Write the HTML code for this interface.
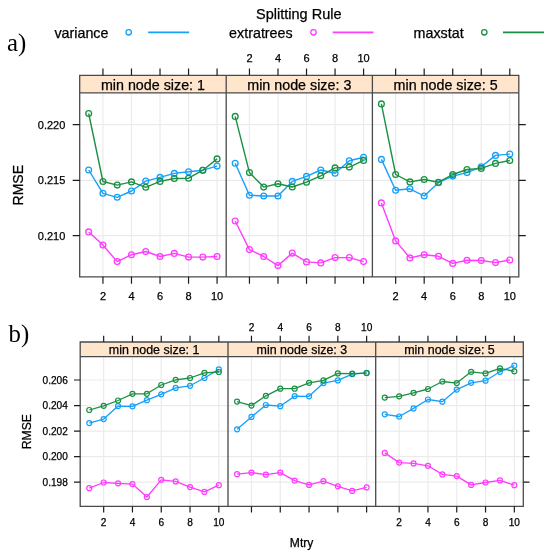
<!DOCTYPE html>
<html><head><meta charset="utf-8"><style>
html,body{margin:0;padding:0;background:#fff;}
body{width:550px;height:556px;overflow:hidden;}
svg{display:block;will-change:transform;}
text{font-family:"Liberation Sans",sans-serif;fill:#000000;stroke:#000000;stroke-width:2.5px;}
text.s{font-family:"Liberation Serif",serif;stroke:none;}
</style></head><body>
<svg width="550" height="556" viewBox="0 0 550 556">
<rect width="550" height="556" fill="#fff"/>
<text transform="translate(298.8 19.4) scale(0.1)" font-size="145" text-anchor="middle">Splitting Rule</text>
<text transform="translate(54.4 37.6) scale(0.1)" font-size="143">variance</text>
<circle cx="128.7" cy="32.3" r="2.7" fill="none" stroke="#16a0f8" stroke-width="1.3"/>
<path d="M148.2 32.3H189.1" stroke="#16a0f8" stroke-width="1.7"/>
<text transform="translate(229.1 37.6) scale(0.1)" font-size="143">extratrees</text>
<circle cx="313.5" cy="32.3" r="2.7" fill="none" stroke="#ff3cff" stroke-width="1.3"/>
<path d="M332.7 32.3H373.5" stroke="#ff3cff" stroke-width="1.7"/>
<text transform="translate(413.6 37.6) scale(0.1)" font-size="143">maxstat</text>
<circle cx="484.3" cy="32.3" r="2.7" fill="none" stroke="#1b9044" stroke-width="1.3"/>
<path d="M503 32.3H544" stroke="#1b9044" stroke-width="1.7"/>
<text transform="translate(6.9 51.3) scale(0.1)" font-size="248" class="s">a)</text>
<text transform="translate(8.6 342.2) scale(0.1)" font-size="248" class="s">b)</text>
<text transform="translate(23.3 185.2) rotate(-90) scale(0.1)" font-size="140" text-anchor="middle">RMSE</text>
<text transform="translate(31.4 431.6) rotate(-90) scale(0.1)" font-size="122" text-anchor="middle">RMSE</text>
<text transform="translate(301.6 546.6) scale(0.1)" font-size="121" text-anchor="middle">Mtry</text>
<rect x="79.7" y="75.4" width="439.1" height="17.4" fill="#ffe5cc"/>
<path d="M102.95 92.8V276.8M131.48 92.8V276.8M160.02 92.8V276.8M188.55 92.8V276.8M217.08 92.8V276.8M79.7 124.6H226.2M79.7 180.4H226.2M79.7 235.6H226.2M249.45 92.8V276.8M277.98 92.8V276.8M306.52 92.8V276.8M335.05 92.8V276.8M363.58 92.8V276.8M226.2 124.6H372.4M226.2 180.4H372.4M226.2 235.6H372.4M395.65 92.8V276.8M424.18 92.8V276.8M452.72 92.8V276.8M481.25 92.8V276.8M509.78 92.8V276.8M372.4 124.6H518.8M372.4 180.4H518.8M372.4 235.6H518.8" stroke="#ebebeb" stroke-width="1.2" fill="none"/>
<polyline points="88.69,170 102.95,193.3 117.22,197.3 131.48,191 145.75,181.1 160.02,177.4 174.28,173.4 188.55,171.8 202.81,170.2 217.08,166.1" fill="none" stroke="#16a0f8" stroke-width="1.4" stroke-linejoin="round"/>
<circle cx="88.69" cy="170" r="2.9" fill="none" stroke="#16a0f8" stroke-width="1.3"/>
<circle cx="102.95" cy="193.3" r="2.9" fill="none" stroke="#16a0f8" stroke-width="1.3"/>
<circle cx="117.22" cy="197.3" r="2.9" fill="none" stroke="#16a0f8" stroke-width="1.3"/>
<circle cx="131.48" cy="191" r="2.9" fill="none" stroke="#16a0f8" stroke-width="1.3"/>
<circle cx="145.75" cy="181.1" r="2.9" fill="none" stroke="#16a0f8" stroke-width="1.3"/>
<circle cx="160.02" cy="177.4" r="2.9" fill="none" stroke="#16a0f8" stroke-width="1.3"/>
<circle cx="174.28" cy="173.4" r="2.9" fill="none" stroke="#16a0f8" stroke-width="1.3"/>
<circle cx="188.55" cy="171.8" r="2.9" fill="none" stroke="#16a0f8" stroke-width="1.3"/>
<circle cx="202.81" cy="170.2" r="2.9" fill="none" stroke="#16a0f8" stroke-width="1.3"/>
<circle cx="217.08" cy="166.1" r="2.9" fill="none" stroke="#16a0f8" stroke-width="1.3"/>
<polyline points="235.19,163.3 249.45,195.2 263.72,196 277.98,196 292.25,181.4 306.52,176.4 320.78,170 335.05,173.2 349.31,160.7 363.58,157.2" fill="none" stroke="#16a0f8" stroke-width="1.4" stroke-linejoin="round"/>
<circle cx="235.19" cy="163.3" r="2.9" fill="none" stroke="#16a0f8" stroke-width="1.3"/>
<circle cx="249.45" cy="195.2" r="2.9" fill="none" stroke="#16a0f8" stroke-width="1.3"/>
<circle cx="263.72" cy="196" r="2.9" fill="none" stroke="#16a0f8" stroke-width="1.3"/>
<circle cx="277.98" cy="196" r="2.9" fill="none" stroke="#16a0f8" stroke-width="1.3"/>
<circle cx="292.25" cy="181.4" r="2.9" fill="none" stroke="#16a0f8" stroke-width="1.3"/>
<circle cx="306.52" cy="176.4" r="2.9" fill="none" stroke="#16a0f8" stroke-width="1.3"/>
<circle cx="320.78" cy="170" r="2.9" fill="none" stroke="#16a0f8" stroke-width="1.3"/>
<circle cx="335.05" cy="173.2" r="2.9" fill="none" stroke="#16a0f8" stroke-width="1.3"/>
<circle cx="349.31" cy="160.7" r="2.9" fill="none" stroke="#16a0f8" stroke-width="1.3"/>
<circle cx="363.58" cy="157.2" r="2.9" fill="none" stroke="#16a0f8" stroke-width="1.3"/>
<polyline points="381.39,159.4 395.65,190.2 409.92,188.8 424.18,196 438.45,182.7 452.72,176.1 466.98,172.6 481.25,166.8 495.51,155.4 509.78,154.1" fill="none" stroke="#16a0f8" stroke-width="1.4" stroke-linejoin="round"/>
<circle cx="381.39" cy="159.4" r="2.9" fill="none" stroke="#16a0f8" stroke-width="1.3"/>
<circle cx="395.65" cy="190.2" r="2.9" fill="none" stroke="#16a0f8" stroke-width="1.3"/>
<circle cx="409.92" cy="188.8" r="2.9" fill="none" stroke="#16a0f8" stroke-width="1.3"/>
<circle cx="424.18" cy="196" r="2.9" fill="none" stroke="#16a0f8" stroke-width="1.3"/>
<circle cx="438.45" cy="182.7" r="2.9" fill="none" stroke="#16a0f8" stroke-width="1.3"/>
<circle cx="452.72" cy="176.1" r="2.9" fill="none" stroke="#16a0f8" stroke-width="1.3"/>
<circle cx="466.98" cy="172.6" r="2.9" fill="none" stroke="#16a0f8" stroke-width="1.3"/>
<circle cx="481.25" cy="166.8" r="2.9" fill="none" stroke="#16a0f8" stroke-width="1.3"/>
<circle cx="495.51" cy="155.4" r="2.9" fill="none" stroke="#16a0f8" stroke-width="1.3"/>
<circle cx="509.78" cy="154.1" r="2.9" fill="none" stroke="#16a0f8" stroke-width="1.3"/>
<polyline points="88.69,231.9 102.95,245.1 117.22,261.6 131.48,254.7 145.75,251.5 160.02,256.5 174.28,253.4 188.55,257.1 202.81,257.1 217.08,256.5" fill="none" stroke="#ff3cff" stroke-width="1.4" stroke-linejoin="round"/>
<circle cx="88.69" cy="231.9" r="2.9" fill="none" stroke="#ff3cff" stroke-width="1.3"/>
<circle cx="102.95" cy="245.1" r="2.9" fill="none" stroke="#ff3cff" stroke-width="1.3"/>
<circle cx="117.22" cy="261.6" r="2.9" fill="none" stroke="#ff3cff" stroke-width="1.3"/>
<circle cx="131.48" cy="254.7" r="2.9" fill="none" stroke="#ff3cff" stroke-width="1.3"/>
<circle cx="145.75" cy="251.5" r="2.9" fill="none" stroke="#ff3cff" stroke-width="1.3"/>
<circle cx="160.02" cy="256.5" r="2.9" fill="none" stroke="#ff3cff" stroke-width="1.3"/>
<circle cx="174.28" cy="253.4" r="2.9" fill="none" stroke="#ff3cff" stroke-width="1.3"/>
<circle cx="188.55" cy="257.1" r="2.9" fill="none" stroke="#ff3cff" stroke-width="1.3"/>
<circle cx="202.81" cy="257.1" r="2.9" fill="none" stroke="#ff3cff" stroke-width="1.3"/>
<circle cx="217.08" cy="256.5" r="2.9" fill="none" stroke="#ff3cff" stroke-width="1.3"/>
<polyline points="235.19,221 249.45,249.6 263.72,256.5 277.98,265.6 292.25,253.1 306.52,261.9 320.78,262.9 335.05,257.6 349.31,257.6 363.58,261.6" fill="none" stroke="#ff3cff" stroke-width="1.4" stroke-linejoin="round"/>
<circle cx="235.19" cy="221" r="2.9" fill="none" stroke="#ff3cff" stroke-width="1.3"/>
<circle cx="249.45" cy="249.6" r="2.9" fill="none" stroke="#ff3cff" stroke-width="1.3"/>
<circle cx="263.72" cy="256.5" r="2.9" fill="none" stroke="#ff3cff" stroke-width="1.3"/>
<circle cx="277.98" cy="265.6" r="2.9" fill="none" stroke="#ff3cff" stroke-width="1.3"/>
<circle cx="292.25" cy="253.1" r="2.9" fill="none" stroke="#ff3cff" stroke-width="1.3"/>
<circle cx="306.52" cy="261.9" r="2.9" fill="none" stroke="#ff3cff" stroke-width="1.3"/>
<circle cx="320.78" cy="262.9" r="2.9" fill="none" stroke="#ff3cff" stroke-width="1.3"/>
<circle cx="335.05" cy="257.6" r="2.9" fill="none" stroke="#ff3cff" stroke-width="1.3"/>
<circle cx="349.31" cy="257.6" r="2.9" fill="none" stroke="#ff3cff" stroke-width="1.3"/>
<circle cx="363.58" cy="261.6" r="2.9" fill="none" stroke="#ff3cff" stroke-width="1.3"/>
<polyline points="381.39,202.9 395.65,240.9 409.92,257.9 424.18,254.7 438.45,256.3 452.72,263.4 466.98,260.3 481.25,260.5 495.51,262.6 509.78,260" fill="none" stroke="#ff3cff" stroke-width="1.4" stroke-linejoin="round"/>
<circle cx="381.39" cy="202.9" r="2.9" fill="none" stroke="#ff3cff" stroke-width="1.3"/>
<circle cx="395.65" cy="240.9" r="2.9" fill="none" stroke="#ff3cff" stroke-width="1.3"/>
<circle cx="409.92" cy="257.9" r="2.9" fill="none" stroke="#ff3cff" stroke-width="1.3"/>
<circle cx="424.18" cy="254.7" r="2.9" fill="none" stroke="#ff3cff" stroke-width="1.3"/>
<circle cx="438.45" cy="256.3" r="2.9" fill="none" stroke="#ff3cff" stroke-width="1.3"/>
<circle cx="452.72" cy="263.4" r="2.9" fill="none" stroke="#ff3cff" stroke-width="1.3"/>
<circle cx="466.98" cy="260.3" r="2.9" fill="none" stroke="#ff3cff" stroke-width="1.3"/>
<circle cx="481.25" cy="260.5" r="2.9" fill="none" stroke="#ff3cff" stroke-width="1.3"/>
<circle cx="495.51" cy="262.6" r="2.9" fill="none" stroke="#ff3cff" stroke-width="1.3"/>
<circle cx="509.78" cy="260" r="2.9" fill="none" stroke="#ff3cff" stroke-width="1.3"/>
<polyline points="88.69,113.5 102.95,181.5 117.22,185.1 131.48,181.9 145.75,187.3 160.02,181.4 174.28,178.5 188.55,178.2 202.81,170.2 217.08,158.9" fill="none" stroke="#1b9044" stroke-width="1.4" stroke-linejoin="round"/>
<circle cx="88.69" cy="113.5" r="2.9" fill="none" stroke="#1b9044" stroke-width="1.3"/>
<circle cx="102.95" cy="181.5" r="2.9" fill="none" stroke="#1b9044" stroke-width="1.3"/>
<circle cx="117.22" cy="185.1" r="2.9" fill="none" stroke="#1b9044" stroke-width="1.3"/>
<circle cx="131.48" cy="181.9" r="2.9" fill="none" stroke="#1b9044" stroke-width="1.3"/>
<circle cx="145.75" cy="187.3" r="2.9" fill="none" stroke="#1b9044" stroke-width="1.3"/>
<circle cx="160.02" cy="181.4" r="2.9" fill="none" stroke="#1b9044" stroke-width="1.3"/>
<circle cx="174.28" cy="178.5" r="2.9" fill="none" stroke="#1b9044" stroke-width="1.3"/>
<circle cx="188.55" cy="178.2" r="2.9" fill="none" stroke="#1b9044" stroke-width="1.3"/>
<circle cx="202.81" cy="170.2" r="2.9" fill="none" stroke="#1b9044" stroke-width="1.3"/>
<circle cx="217.08" cy="158.9" r="2.9" fill="none" stroke="#1b9044" stroke-width="1.3"/>
<polyline points="235.19,116.4 249.45,172.6 263.72,187.1 277.98,183.8 292.25,187 306.52,182.2 320.78,175.8 335.05,167.9 349.31,167.1 363.58,160.4" fill="none" stroke="#1b9044" stroke-width="1.4" stroke-linejoin="round"/>
<circle cx="235.19" cy="116.4" r="2.9" fill="none" stroke="#1b9044" stroke-width="1.3"/>
<circle cx="249.45" cy="172.6" r="2.9" fill="none" stroke="#1b9044" stroke-width="1.3"/>
<circle cx="263.72" cy="187.1" r="2.9" fill="none" stroke="#1b9044" stroke-width="1.3"/>
<circle cx="277.98" cy="183.8" r="2.9" fill="none" stroke="#1b9044" stroke-width="1.3"/>
<circle cx="292.25" cy="187" r="2.9" fill="none" stroke="#1b9044" stroke-width="1.3"/>
<circle cx="306.52" cy="182.2" r="2.9" fill="none" stroke="#1b9044" stroke-width="1.3"/>
<circle cx="320.78" cy="175.8" r="2.9" fill="none" stroke="#1b9044" stroke-width="1.3"/>
<circle cx="335.05" cy="167.9" r="2.9" fill="none" stroke="#1b9044" stroke-width="1.3"/>
<circle cx="349.31" cy="167.1" r="2.9" fill="none" stroke="#1b9044" stroke-width="1.3"/>
<circle cx="363.58" cy="160.4" r="2.9" fill="none" stroke="#1b9044" stroke-width="1.3"/>
<polyline points="381.39,103.9 395.65,174.5 409.92,181.9 424.18,179.5 438.45,182.2 452.72,174.5 466.98,169.5 481.25,168.4 495.51,163.4 509.78,160.5" fill="none" stroke="#1b9044" stroke-width="1.4" stroke-linejoin="round"/>
<circle cx="381.39" cy="103.9" r="2.9" fill="none" stroke="#1b9044" stroke-width="1.3"/>
<circle cx="395.65" cy="174.5" r="2.9" fill="none" stroke="#1b9044" stroke-width="1.3"/>
<circle cx="409.92" cy="181.9" r="2.9" fill="none" stroke="#1b9044" stroke-width="1.3"/>
<circle cx="424.18" cy="179.5" r="2.9" fill="none" stroke="#1b9044" stroke-width="1.3"/>
<circle cx="438.45" cy="182.2" r="2.9" fill="none" stroke="#1b9044" stroke-width="1.3"/>
<circle cx="452.72" cy="174.5" r="2.9" fill="none" stroke="#1b9044" stroke-width="1.3"/>
<circle cx="466.98" cy="169.5" r="2.9" fill="none" stroke="#1b9044" stroke-width="1.3"/>
<circle cx="481.25" cy="168.4" r="2.9" fill="none" stroke="#1b9044" stroke-width="1.3"/>
<circle cx="495.51" cy="163.4" r="2.9" fill="none" stroke="#1b9044" stroke-width="1.3"/>
<circle cx="509.78" cy="160.5" r="2.9" fill="none" stroke="#1b9044" stroke-width="1.3"/>
<path d="M79.7 75.4H518.8M79.7 92.8H518.8M79.7 276.8H518.8M79.7 75.4V276.8M226.2 75.4V276.8M372.4 75.4V276.8M518.8 75.4V276.8" stroke="#4a4a4a" stroke-width="1.3" fill="none" stroke-linecap="square"/>
<path d="M102.95 75.4V68.4M102.95 276.8V283.8M131.48 75.4V68.4M131.48 276.8V283.8M160.02 75.4V68.4M160.02 276.8V283.8M188.55 75.4V68.4M188.55 276.8V283.8M217.08 75.4V68.4M217.08 276.8V283.8M249.45 75.4V68.4M249.45 276.8V283.8M277.98 75.4V68.4M277.98 276.8V283.8M306.52 75.4V68.4M306.52 276.8V283.8M335.05 75.4V68.4M335.05 276.8V283.8M363.58 75.4V68.4M363.58 276.8V283.8M395.65 75.4V68.4M395.65 276.8V283.8M424.18 75.4V68.4M424.18 276.8V283.8M452.72 75.4V68.4M452.72 276.8V283.8M481.25 75.4V68.4M481.25 276.8V283.8M509.78 75.4V68.4M509.78 276.8V283.8M79.7 124.6H72.7M518.8 124.6H525.8M79.7 180.4H72.7M518.8 180.4H525.8M79.7 235.6H72.7M518.8 235.6H525.8" stroke="#1c1c1c" stroke-width="1.2" fill="none"/>
<text transform="translate(152.95 89.92) scale(0.1)" font-size="143" text-anchor="middle">min node size: 1</text>
<text transform="translate(299.3 89.92) scale(0.1)" font-size="143" text-anchor="middle">min node size: 3</text>
<text transform="translate(445.6 89.92) scale(0.1)" font-size="143" text-anchor="middle">min node size: 5</text>
<text transform="translate(102.95 299.6) scale(0.1)" font-size="110" text-anchor="middle">2</text>
<text transform="translate(131.48 299.6) scale(0.1)" font-size="110" text-anchor="middle">4</text>
<text transform="translate(160.02 299.6) scale(0.1)" font-size="110" text-anchor="middle">6</text>
<text transform="translate(188.55 299.6) scale(0.1)" font-size="110" text-anchor="middle">8</text>
<text transform="translate(217.08 299.6) scale(0.1)" font-size="110" text-anchor="middle">10</text>
<text transform="translate(249.45 62) scale(0.1)" font-size="110" text-anchor="middle">2</text>
<text transform="translate(277.98 62) scale(0.1)" font-size="110" text-anchor="middle">4</text>
<text transform="translate(306.52 62) scale(0.1)" font-size="110" text-anchor="middle">6</text>
<text transform="translate(335.05 62) scale(0.1)" font-size="110" text-anchor="middle">8</text>
<text transform="translate(363.58 62) scale(0.1)" font-size="110" text-anchor="middle">10</text>
<text transform="translate(395.65 299.6) scale(0.1)" font-size="110" text-anchor="middle">2</text>
<text transform="translate(424.18 299.6) scale(0.1)" font-size="110" text-anchor="middle">4</text>
<text transform="translate(452.72 299.6) scale(0.1)" font-size="110" text-anchor="middle">6</text>
<text transform="translate(481.25 299.6) scale(0.1)" font-size="110" text-anchor="middle">8</text>
<text transform="translate(509.78 299.6) scale(0.1)" font-size="110" text-anchor="middle">10</text>
<text transform="translate(65.3 128.54) scale(0.1)" font-size="110" text-anchor="end">0.220</text>
<text transform="translate(65.3 184.34) scale(0.1)" font-size="110" text-anchor="end">0.215</text>
<text transform="translate(65.3 239.54) scale(0.1)" font-size="110" text-anchor="end">0.210</text>
<rect x="80.2" y="342" width="443.1" height="14.7" fill="#ffe5cc"/>
<path d="M103.67 356.7V506.4M132.46 356.7V506.4M161.25 356.7V506.4M190.04 356.7V506.4M218.83 356.7V506.4M80.2 380H228M80.2 405.6H228M80.2 431.2H228M80.2 456.7H228M80.2 482.1H228M251.47 356.7V506.4M280.26 356.7V506.4M309.05 356.7V506.4M337.84 356.7V506.4M366.63 356.7V506.4M228 380H375.7M228 405.6H375.7M228 431.2H375.7M228 456.7H375.7M228 482.1H375.7M399.17 356.7V506.4M427.96 356.7V506.4M456.75 356.7V506.4M485.54 356.7V506.4M514.33 356.7V506.4M375.7 380H523.3M375.7 405.6H523.3M375.7 431.2H523.3M375.7 456.7H523.3M375.7 482.1H523.3" stroke="#ebebeb" stroke-width="1.2" fill="none"/>
<polyline points="89.27,423.1 103.67,419.1 118.06,406.1 132.46,406.3 146.85,400.2 161.25,394.3 175.64,387.9 190.04,385.8 204.43,378 218.83,369.4" fill="none" stroke="#16a0f8" stroke-width="1.3" stroke-linejoin="round"/>
<circle cx="89.27" cy="423.1" r="2.5" fill="none" stroke="#16a0f8" stroke-width="1.2"/>
<circle cx="103.67" cy="419.1" r="2.5" fill="none" stroke="#16a0f8" stroke-width="1.2"/>
<circle cx="118.06" cy="406.1" r="2.5" fill="none" stroke="#16a0f8" stroke-width="1.2"/>
<circle cx="132.46" cy="406.3" r="2.5" fill="none" stroke="#16a0f8" stroke-width="1.2"/>
<circle cx="146.85" cy="400.2" r="2.5" fill="none" stroke="#16a0f8" stroke-width="1.2"/>
<circle cx="161.25" cy="394.3" r="2.5" fill="none" stroke="#16a0f8" stroke-width="1.2"/>
<circle cx="175.64" cy="387.9" r="2.5" fill="none" stroke="#16a0f8" stroke-width="1.2"/>
<circle cx="190.04" cy="385.8" r="2.5" fill="none" stroke="#16a0f8" stroke-width="1.2"/>
<circle cx="204.43" cy="378" r="2.5" fill="none" stroke="#16a0f8" stroke-width="1.2"/>
<circle cx="218.83" cy="369.4" r="2.5" fill="none" stroke="#16a0f8" stroke-width="1.2"/>
<polyline points="237.07,429.3 251.47,416.9 265.86,405 280.26,406.2 294.65,396.1 309.05,396.3 323.44,383.1 337.84,380.4 352.23,374.2 366.63,372.9" fill="none" stroke="#16a0f8" stroke-width="1.3" stroke-linejoin="round"/>
<circle cx="237.07" cy="429.3" r="2.5" fill="none" stroke="#16a0f8" stroke-width="1.2"/>
<circle cx="251.47" cy="416.9" r="2.5" fill="none" stroke="#16a0f8" stroke-width="1.2"/>
<circle cx="265.86" cy="405" r="2.5" fill="none" stroke="#16a0f8" stroke-width="1.2"/>
<circle cx="280.26" cy="406.2" r="2.5" fill="none" stroke="#16a0f8" stroke-width="1.2"/>
<circle cx="294.65" cy="396.1" r="2.5" fill="none" stroke="#16a0f8" stroke-width="1.2"/>
<circle cx="309.05" cy="396.3" r="2.5" fill="none" stroke="#16a0f8" stroke-width="1.2"/>
<circle cx="323.44" cy="383.1" r="2.5" fill="none" stroke="#16a0f8" stroke-width="1.2"/>
<circle cx="337.84" cy="380.4" r="2.5" fill="none" stroke="#16a0f8" stroke-width="1.2"/>
<circle cx="352.23" cy="374.2" r="2.5" fill="none" stroke="#16a0f8" stroke-width="1.2"/>
<circle cx="366.63" cy="372.9" r="2.5" fill="none" stroke="#16a0f8" stroke-width="1.2"/>
<polyline points="384.77,414.3 399.17,416.5 413.56,408.4 427.96,399.5 442.35,401.7 456.75,389.6 471.14,382.8 485.54,380.7 499.93,371.8 514.33,365.6" fill="none" stroke="#16a0f8" stroke-width="1.3" stroke-linejoin="round"/>
<circle cx="384.77" cy="414.3" r="2.5" fill="none" stroke="#16a0f8" stroke-width="1.2"/>
<circle cx="399.17" cy="416.5" r="2.5" fill="none" stroke="#16a0f8" stroke-width="1.2"/>
<circle cx="413.56" cy="408.4" r="2.5" fill="none" stroke="#16a0f8" stroke-width="1.2"/>
<circle cx="427.96" cy="399.5" r="2.5" fill="none" stroke="#16a0f8" stroke-width="1.2"/>
<circle cx="442.35" cy="401.7" r="2.5" fill="none" stroke="#16a0f8" stroke-width="1.2"/>
<circle cx="456.75" cy="389.6" r="2.5" fill="none" stroke="#16a0f8" stroke-width="1.2"/>
<circle cx="471.14" cy="382.8" r="2.5" fill="none" stroke="#16a0f8" stroke-width="1.2"/>
<circle cx="485.54" cy="380.7" r="2.5" fill="none" stroke="#16a0f8" stroke-width="1.2"/>
<circle cx="499.93" cy="371.8" r="2.5" fill="none" stroke="#16a0f8" stroke-width="1.2"/>
<circle cx="514.33" cy="365.6" r="2.5" fill="none" stroke="#16a0f8" stroke-width="1.2"/>
<polyline points="89.27,488.2 103.67,482.5 118.06,483.3 132.46,484.1 146.85,497 161.25,479.8 175.64,481.4 190.04,487.1 204.43,491.9 218.83,485.2" fill="none" stroke="#ff3cff" stroke-width="1.3" stroke-linejoin="round"/>
<circle cx="89.27" cy="488.2" r="2.5" fill="none" stroke="#ff3cff" stroke-width="1.2"/>
<circle cx="103.67" cy="482.5" r="2.5" fill="none" stroke="#ff3cff" stroke-width="1.2"/>
<circle cx="118.06" cy="483.3" r="2.5" fill="none" stroke="#ff3cff" stroke-width="1.2"/>
<circle cx="132.46" cy="484.1" r="2.5" fill="none" stroke="#ff3cff" stroke-width="1.2"/>
<circle cx="146.85" cy="497" r="2.5" fill="none" stroke="#ff3cff" stroke-width="1.2"/>
<circle cx="161.25" cy="479.8" r="2.5" fill="none" stroke="#ff3cff" stroke-width="1.2"/>
<circle cx="175.64" cy="481.4" r="2.5" fill="none" stroke="#ff3cff" stroke-width="1.2"/>
<circle cx="190.04" cy="487.1" r="2.5" fill="none" stroke="#ff3cff" stroke-width="1.2"/>
<circle cx="204.43" cy="491.9" r="2.5" fill="none" stroke="#ff3cff" stroke-width="1.2"/>
<circle cx="218.83" cy="485.2" r="2.5" fill="none" stroke="#ff3cff" stroke-width="1.2"/>
<polyline points="237.07,474.2 251.47,472.6 265.86,474.7 280.26,472.6 294.65,480.6 309.05,484.9 323.44,481.2 337.84,486.3 352.23,490.9 366.63,487.4" fill="none" stroke="#ff3cff" stroke-width="1.3" stroke-linejoin="round"/>
<circle cx="237.07" cy="474.2" r="2.5" fill="none" stroke="#ff3cff" stroke-width="1.2"/>
<circle cx="251.47" cy="472.6" r="2.5" fill="none" stroke="#ff3cff" stroke-width="1.2"/>
<circle cx="265.86" cy="474.7" r="2.5" fill="none" stroke="#ff3cff" stroke-width="1.2"/>
<circle cx="280.26" cy="472.6" r="2.5" fill="none" stroke="#ff3cff" stroke-width="1.2"/>
<circle cx="294.65" cy="480.6" r="2.5" fill="none" stroke="#ff3cff" stroke-width="1.2"/>
<circle cx="309.05" cy="484.9" r="2.5" fill="none" stroke="#ff3cff" stroke-width="1.2"/>
<circle cx="323.44" cy="481.2" r="2.5" fill="none" stroke="#ff3cff" stroke-width="1.2"/>
<circle cx="337.84" cy="486.3" r="2.5" fill="none" stroke="#ff3cff" stroke-width="1.2"/>
<circle cx="352.23" cy="490.9" r="2.5" fill="none" stroke="#ff3cff" stroke-width="1.2"/>
<circle cx="366.63" cy="487.4" r="2.5" fill="none" stroke="#ff3cff" stroke-width="1.2"/>
<polyline points="384.77,452.9 399.17,462.6 413.56,463.4 427.96,465.8 442.35,474.4 456.75,476.1 471.14,484.9 485.54,482.5 499.93,480.4 514.33,485.2" fill="none" stroke="#ff3cff" stroke-width="1.3" stroke-linejoin="round"/>
<circle cx="384.77" cy="452.9" r="2.5" fill="none" stroke="#ff3cff" stroke-width="1.2"/>
<circle cx="399.17" cy="462.6" r="2.5" fill="none" stroke="#ff3cff" stroke-width="1.2"/>
<circle cx="413.56" cy="463.4" r="2.5" fill="none" stroke="#ff3cff" stroke-width="1.2"/>
<circle cx="427.96" cy="465.8" r="2.5" fill="none" stroke="#ff3cff" stroke-width="1.2"/>
<circle cx="442.35" cy="474.4" r="2.5" fill="none" stroke="#ff3cff" stroke-width="1.2"/>
<circle cx="456.75" cy="476.1" r="2.5" fill="none" stroke="#ff3cff" stroke-width="1.2"/>
<circle cx="471.14" cy="484.9" r="2.5" fill="none" stroke="#ff3cff" stroke-width="1.2"/>
<circle cx="485.54" cy="482.5" r="2.5" fill="none" stroke="#ff3cff" stroke-width="1.2"/>
<circle cx="499.93" cy="480.4" r="2.5" fill="none" stroke="#ff3cff" stroke-width="1.2"/>
<circle cx="514.33" cy="485.2" r="2.5" fill="none" stroke="#ff3cff" stroke-width="1.2"/>
<polyline points="89.27,410 103.67,405.8 118.06,400.5 132.46,393.8 146.85,393.8 161.25,385 175.64,379.8 190.04,378 204.43,372.8 218.83,372" fill="none" stroke="#1b9044" stroke-width="1.3" stroke-linejoin="round"/>
<circle cx="89.27" cy="410" r="2.5" fill="none" stroke="#1b9044" stroke-width="1.2"/>
<circle cx="103.67" cy="405.8" r="2.5" fill="none" stroke="#1b9044" stroke-width="1.2"/>
<circle cx="118.06" cy="400.5" r="2.5" fill="none" stroke="#1b9044" stroke-width="1.2"/>
<circle cx="132.46" cy="393.8" r="2.5" fill="none" stroke="#1b9044" stroke-width="1.2"/>
<circle cx="146.85" cy="393.8" r="2.5" fill="none" stroke="#1b9044" stroke-width="1.2"/>
<circle cx="161.25" cy="385" r="2.5" fill="none" stroke="#1b9044" stroke-width="1.2"/>
<circle cx="175.64" cy="379.8" r="2.5" fill="none" stroke="#1b9044" stroke-width="1.2"/>
<circle cx="190.04" cy="378" r="2.5" fill="none" stroke="#1b9044" stroke-width="1.2"/>
<circle cx="204.43" cy="372.8" r="2.5" fill="none" stroke="#1b9044" stroke-width="1.2"/>
<circle cx="218.83" cy="372" r="2.5" fill="none" stroke="#1b9044" stroke-width="1.2"/>
<polyline points="237.07,401.6 251.47,405.6 265.86,395.8 280.26,388.7 294.65,388.7 309.05,382.8 323.44,380.4 337.84,373.4 352.23,373.7 366.63,373.1" fill="none" stroke="#1b9044" stroke-width="1.3" stroke-linejoin="round"/>
<circle cx="237.07" cy="401.6" r="2.5" fill="none" stroke="#1b9044" stroke-width="1.2"/>
<circle cx="251.47" cy="405.6" r="2.5" fill="none" stroke="#1b9044" stroke-width="1.2"/>
<circle cx="265.86" cy="395.8" r="2.5" fill="none" stroke="#1b9044" stroke-width="1.2"/>
<circle cx="280.26" cy="388.7" r="2.5" fill="none" stroke="#1b9044" stroke-width="1.2"/>
<circle cx="294.65" cy="388.7" r="2.5" fill="none" stroke="#1b9044" stroke-width="1.2"/>
<circle cx="309.05" cy="382.8" r="2.5" fill="none" stroke="#1b9044" stroke-width="1.2"/>
<circle cx="323.44" cy="380.4" r="2.5" fill="none" stroke="#1b9044" stroke-width="1.2"/>
<circle cx="337.84" cy="373.4" r="2.5" fill="none" stroke="#1b9044" stroke-width="1.2"/>
<circle cx="352.23" cy="373.7" r="2.5" fill="none" stroke="#1b9044" stroke-width="1.2"/>
<circle cx="366.63" cy="373.1" r="2.5" fill="none" stroke="#1b9044" stroke-width="1.2"/>
<polyline points="384.77,397.6 399.17,396.3 413.56,392.8 427.96,389 442.35,381.5 456.75,383.1 471.14,371.8 485.54,373.4 499.93,368.3 514.33,371.3" fill="none" stroke="#1b9044" stroke-width="1.3" stroke-linejoin="round"/>
<circle cx="384.77" cy="397.6" r="2.5" fill="none" stroke="#1b9044" stroke-width="1.2"/>
<circle cx="399.17" cy="396.3" r="2.5" fill="none" stroke="#1b9044" stroke-width="1.2"/>
<circle cx="413.56" cy="392.8" r="2.5" fill="none" stroke="#1b9044" stroke-width="1.2"/>
<circle cx="427.96" cy="389" r="2.5" fill="none" stroke="#1b9044" stroke-width="1.2"/>
<circle cx="442.35" cy="381.5" r="2.5" fill="none" stroke="#1b9044" stroke-width="1.2"/>
<circle cx="456.75" cy="383.1" r="2.5" fill="none" stroke="#1b9044" stroke-width="1.2"/>
<circle cx="471.14" cy="371.8" r="2.5" fill="none" stroke="#1b9044" stroke-width="1.2"/>
<circle cx="485.54" cy="373.4" r="2.5" fill="none" stroke="#1b9044" stroke-width="1.2"/>
<circle cx="499.93" cy="368.3" r="2.5" fill="none" stroke="#1b9044" stroke-width="1.2"/>
<circle cx="514.33" cy="371.3" r="2.5" fill="none" stroke="#1b9044" stroke-width="1.2"/>
<path d="M80.2 342H523.3M80.2 356.7H523.3M80.2 506.4H523.3M80.2 342V506.4M228 342V506.4M375.7 342V506.4M523.3 342V506.4" stroke="#4a4a4a" stroke-width="1.3" fill="none" stroke-linecap="square"/>
<path d="M103.67 342V335.8M103.67 506.4V512.6M132.46 342V335.8M132.46 506.4V512.6M161.25 342V335.8M161.25 506.4V512.6M190.04 342V335.8M190.04 506.4V512.6M218.83 342V335.8M218.83 506.4V512.6M251.47 342V335.8M251.47 506.4V512.6M280.26 342V335.8M280.26 506.4V512.6M309.05 342V335.8M309.05 506.4V512.6M337.84 342V335.8M337.84 506.4V512.6M366.63 342V335.8M366.63 506.4V512.6M399.17 342V335.8M399.17 506.4V512.6M427.96 342V335.8M427.96 506.4V512.6M456.75 342V335.8M456.75 506.4V512.6M485.54 342V335.8M485.54 506.4V512.6M514.33 342V335.8M514.33 506.4V512.6M80.2 380H74M523.3 380H529.5M80.2 405.6H74M523.3 405.6H529.5M80.2 431.2H74M523.3 431.2H529.5M80.2 456.7H74M523.3 456.7H529.5M80.2 482.1H74M523.3 482.1H529.5" stroke="#1c1c1c" stroke-width="1.2" fill="none"/>
<text transform="translate(154.1 354.21) scale(0.1)" font-size="124.5" text-anchor="middle">min node size: 1</text>
<text transform="translate(301.85 354.21) scale(0.1)" font-size="124.5" text-anchor="middle">min node size: 3</text>
<text transform="translate(449.5 354.21) scale(0.1)" font-size="124.5" text-anchor="middle">min node size: 5</text>
<text transform="translate(103.67 526) scale(0.1)" font-size="101" text-anchor="middle">2</text>
<text transform="translate(132.46 526) scale(0.1)" font-size="101" text-anchor="middle">4</text>
<text transform="translate(161.25 526) scale(0.1)" font-size="101" text-anchor="middle">6</text>
<text transform="translate(190.04 526) scale(0.1)" font-size="101" text-anchor="middle">8</text>
<text transform="translate(218.83 526) scale(0.1)" font-size="101" text-anchor="middle">10</text>
<text transform="translate(251.47 330.8) scale(0.1)" font-size="101" text-anchor="middle">2</text>
<text transform="translate(280.26 330.8) scale(0.1)" font-size="101" text-anchor="middle">4</text>
<text transform="translate(309.05 330.8) scale(0.1)" font-size="101" text-anchor="middle">6</text>
<text transform="translate(337.84 330.8) scale(0.1)" font-size="101" text-anchor="middle">8</text>
<text transform="translate(366.63 330.8) scale(0.1)" font-size="101" text-anchor="middle">10</text>
<text transform="translate(399.17 526) scale(0.1)" font-size="101" text-anchor="middle">2</text>
<text transform="translate(427.96 526) scale(0.1)" font-size="101" text-anchor="middle">4</text>
<text transform="translate(456.75 526) scale(0.1)" font-size="101" text-anchor="middle">6</text>
<text transform="translate(485.54 526) scale(0.1)" font-size="101" text-anchor="middle">8</text>
<text transform="translate(514.33 526) scale(0.1)" font-size="101" text-anchor="middle">10</text>
<text transform="translate(67.8 383.62) scale(0.1)" font-size="101" text-anchor="end">0.206</text>
<text transform="translate(67.8 409.22) scale(0.1)" font-size="101" text-anchor="end">0.204</text>
<text transform="translate(67.8 434.82) scale(0.1)" font-size="101" text-anchor="end">0.202</text>
<text transform="translate(67.8 460.32) scale(0.1)" font-size="101" text-anchor="end">0.200</text>
<text transform="translate(67.8 485.72) scale(0.1)" font-size="101" text-anchor="end">0.198</text>
</svg>
</body></html>
